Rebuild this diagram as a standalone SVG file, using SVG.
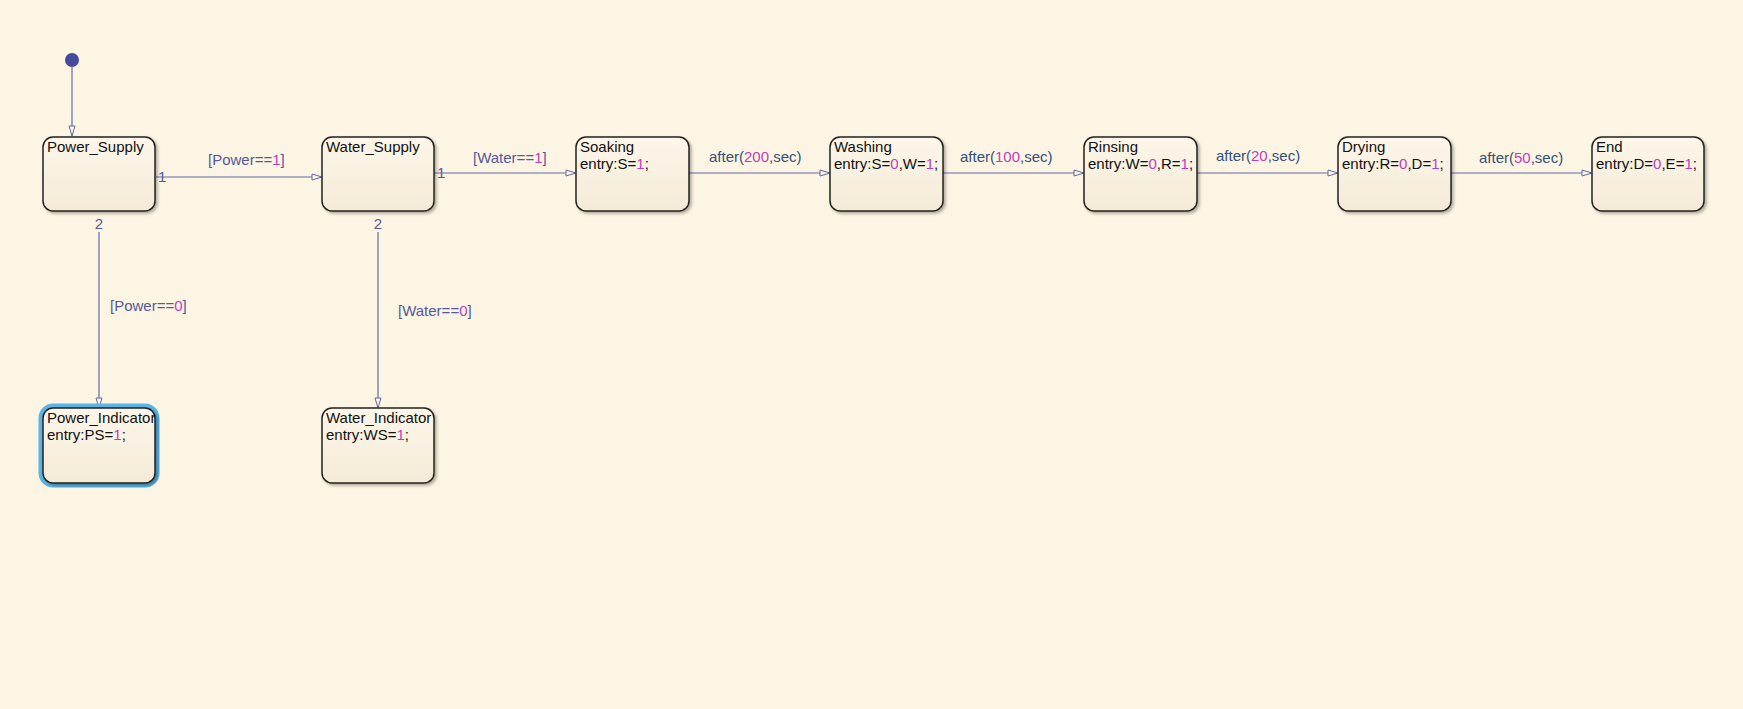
<svg xmlns="http://www.w3.org/2000/svg" width="1743" height="709" viewBox="0 0 1743 709">
<style>
text{font-family:"Liberation Sans",Arial,sans-serif;font-size:15px}
.st{fill:url(#g);stroke:#222;stroke-width:1.5;filter:url(#sh)}
.t{fill:#111}
.n{fill:#c03cc0}
.lb{fill:#5558a0}
.af{fill:#34507a}
.c{stroke:#6468a8;stroke-width:1.2;fill:none;marker-end:url(#ah)}
</style>
<defs>
<linearGradient id="g" x1="0" y1="0" x2="0" y2="1"><stop offset="0" stop-color="#fdf7ea"/><stop offset="1" stop-color="#f4ead6"/></linearGradient>
<filter id="sh" x="-10%" y="-10%" width="130%" height="130%"><feDropShadow dx="2" dy="2" stdDeviation="1.5" flood-color="#000" flood-opacity="0.3"/></filter>
<marker id="ah" markerWidth="12" markerHeight="8" refX="11" refY="4" orient="auto" markerUnits="userSpaceOnUse"><path d="M1,1 L11,4 L1,7 Z" fill="#fdf5e3" stroke="#6468a8" stroke-width="1"/></marker>
</defs>
<rect width="1743" height="709" fill="#fdf5e3"/>
<g id="connectors">
<circle cx="72" cy="60" r="7" fill="#464a9a"/>
<path class="c" d="M72,66 V136"/>
<path class="c" d="M156,177 H322"/>
<path class="c" d="M99,232 V408"/>
<path class="c" d="M378,232 V408"/>
<path class="c" d="M434,173 H576"/>
<path class="c" d="M689,173 H830"/>
<path class="c" d="M943,173 H1084"/>
<path class="c" d="M1197,173 H1338"/>
<path class="c" d="M1451,173 H1592"/>
<text x="158" y="182" class="lb">1</text>
<text x="437" y="178" class="lb">1</text>
<text x="99" y="229" class="lb" text-anchor="middle">2</text>
<text x="378" y="229" class="lb" text-anchor="middle">2</text>
<text x="208" y="165" class="lb">[Power==<tspan class="n">1</tspan>]</text>
<text x="473" y="163" class="lb">[Water==<tspan class="n">1</tspan>]</text>
<text x="110" y="311" class="lb">[Power==<tspan class="n">0</tspan>]</text>
<text x="398" y="316" class="lb">[Water==<tspan class="n">0</tspan>]</text>
<text x="709" y="162" class="af">after(<tspan class="n">200</tspan>,sec)</text>
<text x="960" y="162" class="af">after(<tspan class="n">100</tspan>,sec)</text>
<text x="1216" y="161" class="af">after(<tspan class="n">20</tspan>,sec)</text>
<text x="1479" y="163" class="af">after(<tspan class="n">50</tspan>,sec)</text>
</g>
<g id="Power_Supply"><rect class="st" x="43" y="137" width="112" height="74" rx="10"/><text class="t" x="47" y="152">Power_Supply</text></g>
<g id="Water_Supply"><rect class="st" x="322" y="137" width="112" height="74" rx="10"/><text class="t" x="326" y="152">Water_Supply</text></g>
<g id="Soaking"><rect class="st" x="576" y="137" width="113" height="74" rx="10"/><text class="t" x="580" y="152">Soaking</text><text class="t" x="580" y="169">entry:S=<tspan class="n">1</tspan>;</text></g>
<g id="Washing"><rect class="st" x="830" y="137" width="113" height="74" rx="10"/><text class="t" x="834" y="152">Washing</text><text class="t" x="834" y="169">entry:S=<tspan class="n">0</tspan>,W=<tspan class="n">1</tspan>;</text></g>
<g id="Rinsing"><rect class="st" x="1084" y="137" width="113" height="74" rx="10"/><text class="t" x="1088" y="152">Rinsing</text><text class="t" x="1088" y="169">entry:W=<tspan class="n">0</tspan>,R=<tspan class="n">1</tspan>;</text></g>
<g id="Drying"><rect class="st" x="1338" y="137" width="113" height="74" rx="10"/><text class="t" x="1342" y="152">Drying</text><text class="t" x="1342" y="169">entry:R=<tspan class="n">0</tspan>,D=<tspan class="n">1</tspan>;</text></g>
<g id="End"><rect class="st" x="1592" y="137" width="112" height="74" rx="10"/><text class="t" x="1596" y="152">End</text><text class="t" x="1596" y="169">entry:D=<tspan class="n">0</tspan>,E=<tspan class="n">1</tspan>;</text></g>
<g id="Power_Indicator"><rect x="41" y="406" width="116" height="79" rx="12" fill="none" stroke="#5ab4e6" stroke-width="5"/><rect class="st" x="43" y="408" width="112" height="75" rx="10"/><text class="t" x="47" y="423">Power_Indicator</text><text class="t" x="47" y="440">entry:PS=<tspan class="n">1</tspan>;</text></g>
<g id="Water_Indicator"><rect class="st" x="322" y="408" width="112" height="75" rx="10"/><text class="t" x="326" y="423">Water_Indicator</text><text class="t" x="326" y="440">entry:WS=<tspan class="n">1</tspan>;</text></g>
</svg>
